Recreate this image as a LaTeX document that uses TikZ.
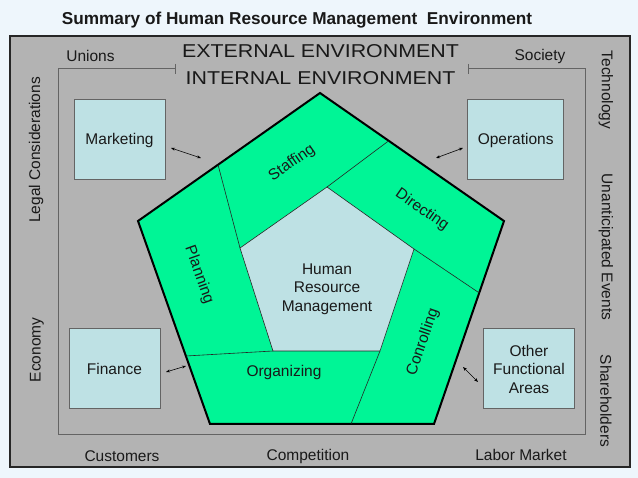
\documentclass[tikz,border=0pt]{standalone}
\usepackage{fontspec}
\setmainfont{Liberation Sans}
\newfontfamily\widefont[FakeStretch=1.15]{Liberation Sans}
\usetikzlibrary{arrows.meta}
\definecolor{bgc}{RGB}{238,246,252}
\definecolor{boxgray}{RGB}{179,179,179}
\definecolor{hrgreen}{RGB}{0,245,150}
\definecolor{paleblue}{RGB}{190,225,228}
\definecolor{framegray}{RGB}{100,100,100}
\definecolor{txt}{RGB}{25,25,25}
\begin{document}
\begin{tikzpicture}[x=1pt,y=-1pt,
  every node/.style={text=txt, inner sep=0pt},
  lbl/.style={font=\fontsize{15.5}{18.5}\selectfont},
  envlbl/.style={font=\widefont\fontsize{18.6}{20}\selectfont},
  funcbox/.style={draw=framegray, line width=1pt, fill=paleblue},
  divider/.style={draw=black!85, line width=0.6pt},
  link/.style={{Stealth[length=4pt,width=3pt]}-{Stealth[length=4pt,width=3pt]}, line width=0.6pt, black}]
\fill[bgc] (0,0) rectangle (638,478);
\useasboundingbox (0,0) rectangle (638,478);
% title
\node[font=\bfseries\fontsize{17.2}{20}\selectfont] (title) at (297,20) {Summary of Human Resource Management\ \ Environment};
% outer environment box
\draw[fill=boxgray, draw=black!85, line width=1.5pt] (10,36) rectangle (630,467);
% internal frame
\draw[framegray, line width=1pt] (175,69) -| (58.7,435) -| (585,69) -- (468,69);
\draw[framegray, line width=1pt] (175,64) -- (175,74) (468,64) -- (468,74);
% env labels
\node[envlbl] (ext) at (320.5,51.5) {EXTERNAL ENVIRONMENT};
\node[envlbl] (int) at (320.5,78.5) {INTERNAL ENVIRONMENT};
\node[lbl] (unions) at (90.5,56) {Unions};
\node[lbl] (society) at (540,56) {Society};
\node[lbl] (customers) at (122,456) {Customers};
\node[lbl] (competition) at (308,456) {Competition};
\node[lbl] (labor) at (521,455) {Labor Market};
\node[lbl, rotate=90] (legal) at (36,150) {Legal Considerations};
\node[lbl, rotate=90] (economy) at (37,350) {Economy};
\node[lbl, rotate=-90] (tech) at (606,90) {Technology};
\node[lbl, rotate=-90] (unant) at (606,247) {Unanticipated Events};
\node[lbl, rotate=-90] (share) at (606,401) {Shareholders};
% functional boxes
\node[funcbox, minimum width=91pt, minimum height=80pt, lbl] (mkt) at (119.5,140) {Marketing};
\node[funcbox, minimum width=96pt, minimum height=80pt, lbl] (ops) at (515.7,140) {Operations};
\node[funcbox, minimum width=91pt, minimum height=80pt, lbl] (fin) at (114.5,369) {Finance};
\node[funcbox, minimum width=91pt, minimum height=80pt, lbl, align=center] (oth) at (529,369) {Other\\Functional\\Areas};
% pentagon
\coordinate (P1) at (320,93);
\coordinate (P2) at (504,221);
\coordinate (P3) at (434,424);
\coordinate (P4) at (210,424);
\coordinate (P5) at (138,221);
\filldraw[fill=hrgreen, draw=black, line width=2pt, line join=miter] (P1)--(P2)--(P3)--(P4)--(P5)--cycle;
\coordinate (Q1) at (327,187);
\coordinate (Q2) at (414,249);
\coordinate (Q3) at (380,351);
\coordinate (Q4) at (273,351);
\coordinate (Q5) at (240,248);
\filldraw[fill=paleblue, divider] (Q1)--(Q2)--(Q3)--(Q4)--(Q5)--cycle;
\coordinate (E1) at (218,164.7);
\coordinate (E2) at (388.7,140.8);
\coordinate (E3) at (479.2,292.9);
\coordinate (E4) at (351,424);
\coordinate (E5) at (185.9,356);
\draw[divider] (Q5)--(E1) (Q1)--(E2) (Q2)--(E3) (Q3)--(E4) (Q4)--(E5);
% pentagon labels
\node[lbl, rotate=35] (staff) at (292,163) {Staffing};
\node[lbl, rotate=-35] (dir) at (422,210) {Directing};
\node[lbl, rotate=-70.5] (plan) at (199,275) {Planning};
\node[lbl, rotate=71] (ctrl) at (423,342) {Conrolling};
\node[lbl] (org) at (284,372) {Organizing};
\node[lbl, align=center] (hrm) at (327,289) {Human\\Resource\\Management};
% arrows
\coordinate (a1) at (171,148); \coordinate (b1) at (201,158);
\coordinate (a2) at (436,158); \coordinate (b2) at (463,148);
\coordinate (a3) at (166,372); \coordinate (b3) at (186,366);
\coordinate (a4) at (463,367); \coordinate (b4) at (478,382);
\draw[link] (a1) -- (b1);
\draw[link] (a2) -- (b2);
\draw[link] (a3) -- (b3);
\draw[link] (a4) -- (b4);
\end{tikzpicture}
\end{document}
